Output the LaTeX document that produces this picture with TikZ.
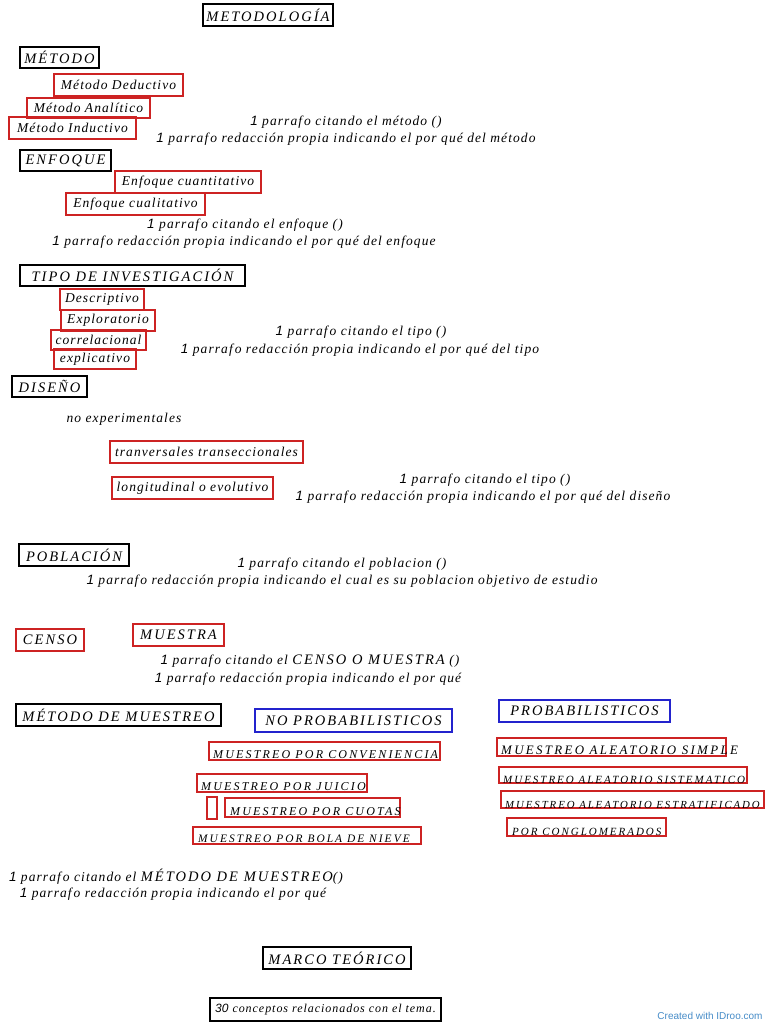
\documentclass[tikz,border=0pt]{standalone}
\usepackage{fontspec}
\setmainfont{Liberation Serif}
\newfontfamily\lsp[LetterSpace=8]{Liberation Serif}
\newfontfamily\lspc[LetterSpace=14]{Liberation Serif}
\newfontfamily\lspw[LetterSpace=18]{Liberation Serif}
\newfontfamily\snum{Liberation Sans}
\definecolor{rb}{RGB}{205,35,35}
\definecolor{bb}{RGB}{35,35,205}
\definecolor{idroo}{RGB}{70,140,200}
\newcommand\uno{{\snum 1}\ }
\newcommand\pfo{parraf\kern2pt o}
\newcommand\capf{\lspc\itshape\fontsize{14.5}{16}\selectfont}
\begin{document}
\begin{tikzpicture}[x=1pt,y=-1pt,
  wh/.style 2 args={minimum width=#1pt,minimum height=#2pt},
  bx/.style={draw=black,line width=1.4pt,inner sep=0pt,font=\capf},
  rbx/.style={draw=rb,line width=1.4pt,inner sep=0pt,font=\lsp\itshape\fontsize{13.5}{15}\selectfont},
  rcx/.style={draw=rb,line width=1.4pt,inner sep=0pt,font=\capf},
  blx/.style={draw=bb,line width=1.4pt,inner sep=0pt,font=\capf},
  ubx/.style={draw=rb,line width=1.4pt,inner sep=0pt},
  utx/.style={anchor=base west,inner sep=0pt,font=\lspw\itshape\fontsize{12}{13}\selectfont},
  usx/.style={anchor=base west,inner sep=0pt,font=\lspw\itshape\fontsize{11}{12}\selectfont},
  ptx/.style={inner sep=0pt,font=\lsp\itshape\fontsize{13.5}{15}\selectfont}]
\useasboundingbox (0,0) rectangle (768,1024);
\fill[white] (0,0) rectangle (768,1024);
% headers
\node[bx,wh={130}{22}] (metodologia) at (268,15) {METODOLOGÍA};
\node[bx,wh={79}{21}] (metodo) at (59.5,57.5) {MÉTODO};
\node[bx,wh={91}{21}] (enfoque) at (65.5,160.5) {ENFOQUE};
\node[bx,wh={225}{21}] (tipo) at (132.5,275.5) {TIPO DE INVESTIGACIÓN};
\node[bx,wh={75}{21}] (diseno) at (49.5,386.5) {DISEÑO};
\node[bx,wh={110}{22}] (poblacion) at (74,555) {POBLACIÓN};
\node[bx,wh={205}{22}] (metmuestreo) at (118.5,715) {MÉTODO DE MUESTREO};
\node[bx,wh={148}{22}] (marco) at (337,958) {MARCO TEÓRICO};
\node[bx,wh={231}{23},font=\lsp\itshape\fontsize{12}{14}\selectfont] (conceptos) at (325.5,1009.5) {{\snum 30} conceptos relacionados con el tema.};
% red items
\node[rbx,wh={129}{22}] (deductivo) at (118.5,85) {Método Deductivo};
\node[rbx,wh={123}{20}] (analitico) at (88.5,108) {Método Analítico};
\node[rbx,wh={127}{22}] (inductivo) at (72.5,128) {Método Inductivo};
\node[rbx,wh={146}{22}] (cuanti) at (188,182) {Enfoque cuantitativo};
\node[rbx,wh={139}{22}] (cuali) at (135.5,204) {Enfoque cualitativo};
\node[rbx,wh={84}{21}] (descriptivo) at (102,299.5) {Descriptivo};
\node[rbx,wh={94}{21}] (exploratorio) at (108,320.5) {Exploratorio};
\node[rbx,wh={95}{20}] (correlacional) at (98.5,340) {correlacional};
\node[rbx,wh={82}{20}] (explicativo) at (95,359) {explicativo};
\node[rbx,wh={193}{22}] (transversal) at (206.5,452) {tranversales transeccionales};
\node[rbx,wh={161}{22}] (longitudinal) at (192.5,488) {longitudinal o evolutivo};
\node[rcx,wh={68}{22}] (censo) at (50,640) {CENSO};
\node[rcx,wh={91}{22}] (muestra) at (178.5,635) {MUESTRA};
% sampling
\node[blx,wh={197}{23}] (noprob) at (353.5,720.5) {NO PROBABILISTICOS};
\node[blx,wh={171}{22}] (prob) at (584.5,711) {PROBABILISTICOS};
\node[ubx,wh={231}{18}] (conv) at (324.5,751) {};
\node[utx] (convt) at (213,758) {MUESTREO POR CONVENIENCIA};
\node[ubx,wh={170}{18}] (juicio) at (282,783) {};
\node[utx] (juiciot) at (201,790) {MUESTREO POR JUICIO};
\node[ubx,wh={10}{22}] (vacio) at (212,808) {};
\node[ubx,wh={175}{19}] (cuotas) at (312.5,807.5) {};
\node[utx] (cuotast) at (230,815) {MUESTREO POR CUOTAS};
\node[ubx,wh={228}{17}] (bola) at (307,835.5) {};
\node[utx,font=\lspw\itshape\fontsize{11.4}{13}\selectfont] (bolat) at (198,842) {MUESTREO POR BOLA DE NIEVE};
\node[ubx,wh={229}{18}] (simple) at (611.5,747) {};
\node[utx,font=\lspw\itshape\fontsize{12.9}{14}\selectfont] (simplet) at (501,754) {MUESTREO ALEATORIO SIMPLE};
\node[ubx,wh={248}{16}] (sistem) at (623,775) {};
\node[usx] (sistemt) at (503,783) {MUESTREO ALEATORIO SISTEMATICO};
\node[ubx,wh={263}{17}] (estrat) at (632.5,799.5) {};
\node[usx,font=\lspw\itshape\fontsize{10.8}{12}\selectfont] (estratt) at (505,808) {MUESTREO ALEATORIO ESTRATIFICADO};
\node[ubx,wh={159}{18}] (conglo) at (586.5,827) {};
\node[utx,font=\lspw\itshape\fontsize{11}{12}\selectfont] (conglot) at (512,835) {POR CONGLOMERADOS};
% paragraphs
\node[ptx] (p1a) at (346,122) {\uno\pfo{} citando el método ()};
\node[ptx] (p1b) at (346,139) {\uno\pfo{} redacción propia indicando el por qué del método};
\node[ptx] (p2a) at (245,225) {\uno\pfo{} citando el enfoque ()};
\node[ptx] (p2b) at (244,242) {\uno\pfo{} redacción propia indicando el por qué del enfoque};
\node[ptx] (p3a) at (361,332) {\uno\pfo{} citando el tipo ()};
\node[ptx] (p3b) at (360,350) {\uno\pfo{} redacción propia indicando el por qué del tipo};
\node[ptx] (noexp) at (124,419) {no experimentales};
\node[ptx] (p4a) at (485,480) {\uno\pfo{} citando el tipo ()};
\node[ptx] (p4b) at (483,497) {\uno\pfo{} redacción propia indicando el por qué del diseño};
\node[ptx] (p5a) at (342,564) {\uno\pfo{} citando el poblacion ()};
\node[ptx] (p5b) at (342,581) {\uno\pfo{} redacción propia indicando el cual es su poblacion objetivo de estudio};
\node[ptx] (p6a) at (310,661) {\uno\pfo{} citando el {\capf CENSO O MUESTRA} ()};
\node[ptx] (p6b) at (308,679) {\uno\pfo{} redacción propia indicando el por qué};
\node[ptx] (p7a) at (176,877) {\uno\pfo{} citando el {\capf MÉTODO DE MUESTREO}()};
\node[ptx] (p7b) at (173,894) {\uno\pfo{} redacción propia indicando el por qué};
\node[inner sep=0pt,text=idroo,font=\snum\fontsize{10}{12}\selectfont] (idroo) at (710,1016) {Created with IDroo.com};
\end{tikzpicture}
\end{document}
